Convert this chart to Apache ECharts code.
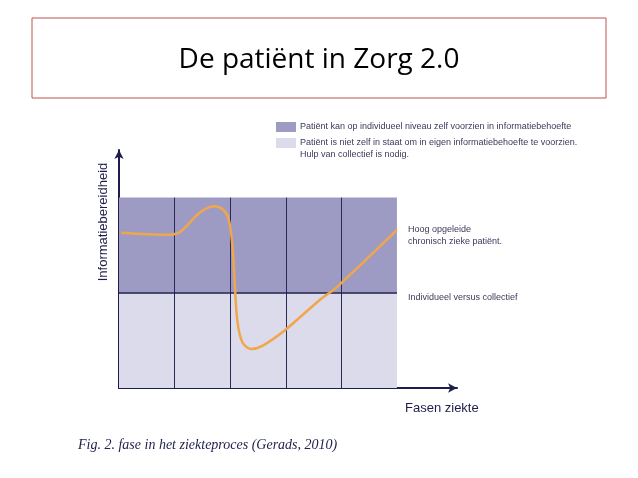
<!DOCTYPE html>
<html><head><meta charset="utf-8">
<script src="https://cdn.jsdelivr.net/npm/echarts@6/dist/echarts.min.js"></script>
<style>html,body{margin:0;padding:0;background:#fff}#c{width:638px;height:478px}</style>
</head><body><div id="c"></div>
<script>
var phases = ['Gezond', 'Klachten', 'Diagnose', 'Behandeling', 'Nazorg/\nchroniciteit'];
var phaseBounds = [1, 2, 3, 4];
var curveX = [0.04, 0.88, 1.1, 1.45, 1.7, 1.86, 1.97, 2.04, 2.08, 2.13, 2.22, 2.37, 2.57, 2.99, 3.6, 3.92, 5.0];
var curveY = [8.16, 8.05, 8.2, 9.2, 9.55, 9.4, 8.9, 7.5, 5.6, 3.5, 2.4, 2.05, 2.2, 3.05, 4.6, 5.3, 8.3];
var threshold = 5;
var top_ = 10;

var chart = echarts.init(document.getElementById('c'));
var curve = curveX.map(function(x, i){ return [x, curveY[i]]; });
var small = {fontFamily: 'Liberation Sans Narrow, Liberation Sans', fontSize: 9, fill: '#3a3a5a'};

chart.setOption({
  animation: false,
  grid: {left: 119, right: 181, top: 150, bottom: 90},
  xAxis: {type: 'value', min: 0, max: 6.08, splitLine: {show: false}, axisTick: {show: false},
    axisLabel: {show: false},
    axisLine: {lineStyle: {color: '#1e1e4a', width: 2}, symbol: ['none', 'arrow'], symbolSize: [7, 9]}},
  yAxis: {type: 'value', min: 0, max: 12.5, splitLine: {show: false}, axisTick: {show: false},
    axisLabel: {show: false},
    axisLine: {show: true, lineStyle: {color: '#1e1e4a', width: 2}, symbol: ['none', 'arrow'], symbolSize: [7, 9]}},
  series: [{
    type: 'line', data: curve, smooth: 0.3, showSymbol: false, z: 5,
    lineStyle: {color: '#f0a64a', width: 2.5},
    markArea: {silent: true, data: [
      [{coord: [0, threshold], itemStyle: {color: '#9d9bc4'}}, {coord: [5, top_]}],
      [{coord: [0, 0], itemStyle: {color: '#dcdbeb'}}, {coord: [5, threshold]}]
    ]},
    markLine: {silent: true, symbol: 'none', label: {show: false},
      lineStyle: {color: '#2a2a55', width: 1, type: 'solid'},
      data: phaseBounds.map(function(b){ return [{coord: [b, 0]}, {coord: [b, top_]}]; })
        .concat([[{coord: [0, threshold], lineStyle: {width: 1.5, color: '#1e1e4a'}}, {coord: [5, threshold]}]])},
    markPoint: {silent: true, symbol: 'rect', symbolSize: 1, itemStyle: {color: 'rgba(0,0,0,0)'},
      label: {show: true, position: 'bottom', distance: 0, fontFamily: 'Liberation Sans Narrow, Liberation Sans',
        fontSize: 9, color: '#3a3a5a', lineHeight: 11, formatter: '{b}'},
      data: phases.map(function(p, i){ return {name: p, coord: [i + 0.5, -0.35]}; })}
  }],
  graphic: [
    {type: 'rect', shape: {x: 32, y: 18, width: 574, height: 80}, style: {fill: '#fff', stroke: '#c0504d', lineWidth: 1}},
    {type: 'text', x: 319, y: 60, style: {text: 'De patiënt in Zorg 2.0', fontFamily: 'Open Sans', fontSize: 28, fill: '#000', textAlign: 'center', textVerticalAlign: 'middle'}},
    {type: 'rect', shape: {x: 276, y: 122, width: 20, height: 10}, style: {fill: '#9d9bc4'}},
    {type: 'rect', shape: {x: 276, y: 138, width: 20, height: 10}, style: {fill: '#dcdbeb'}},
    {type: 'text', x: 300, y: 127, style: Object.assign({text: 'Patiënt kan op individueel niveau zelf voorzien in informatiebehoefte', textVerticalAlign: 'middle'}, small)},
    {type: 'text', x: 300, y: 149, style: Object.assign({text: 'Patiënt is niet zelf in staat om in eigen informatiebehoefte te voorzien.\nHulp van collectief is nodig.', textVerticalAlign: 'middle', lineHeight: 12}, small)},
    {type: 'text', x: 408, y: 236, style: Object.assign({text: 'Hoog opgeleide\nchronisch zieke patiënt.', textVerticalAlign: 'middle', lineHeight: 12}, small)},
    {type: 'text', x: 408, y: 298, style: Object.assign({text: 'Individueel versus collectief', textVerticalAlign: 'middle'}, small)},
    {type: 'text', x: 405, y: 408, style: {text: 'Fasen ziekte', fontFamily: 'Liberation Sans', fontSize: 13, fill: '#1e1e4a', textVerticalAlign: 'middle'}},
    {type: 'text', x: 103, y: 222, rotation: Math.PI / 2, style: {text: 'Informatiebereidheid', fontFamily: 'Liberation Sans', fontSize: 13, fill: '#1e1e4a', textAlign: 'center', textVerticalAlign: 'middle'}},
    {type: 'text', x: 78, y: 445, style: {text: 'Fig. 2. fase in het ziekteproces (Gerads, 2010)', fontFamily: 'Liberation Serif', fontStyle: 'italic', fontSize: 14, fill: '#1e1e4a', textVerticalAlign: 'middle'}}
  ]
});
</script></body></html>
